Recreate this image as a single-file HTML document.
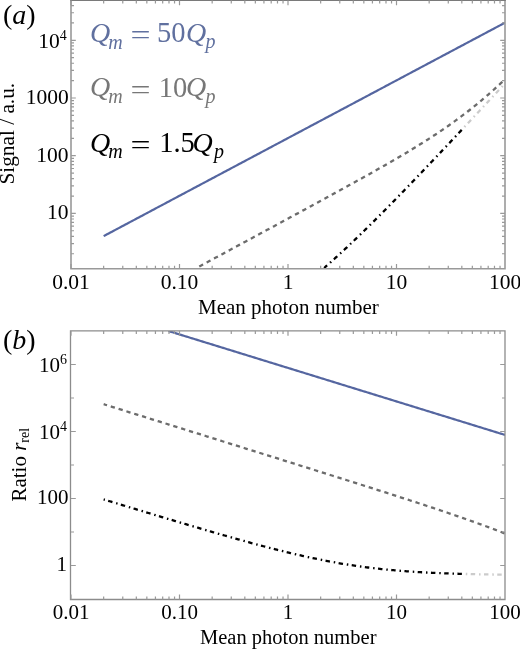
<!DOCTYPE html>
<html><head><meta charset="utf-8"><title>Signal and ratio plots</title>
<style>html,body{margin:0;padding:0;background:#fff;width:520px;height:649px;overflow:hidden}svg{display:block}</style>
</head><body>
<svg width="520" height="649" viewBox="0 0 520 649">
<defs>
<clipPath id="ca"><rect x="71" y="0" width="434" height="268"/></clipPath>
<clipPath id="cb"><rect x="71" y="331" width="434" height="268"/></clipPath>
</defs>
<rect width="520" height="649" fill="#fff"/>
<g clip-path="url(#ca)" fill="none" stroke-width="2.3">
<path d="M103.66,236.11 L105.33,235.22 L107.01,234.33 L108.68,233.44 L110.35,232.55 L112.02,231.67 L113.70,230.78 L115.37,229.89 L117.04,229.00 L118.71,228.11 L120.38,227.22 L122.06,226.33 L123.73,225.44 L125.40,224.55 L127.07,223.66 L128.75,222.77 L130.42,221.88 L132.09,220.99 L133.76,220.10 L135.43,219.22 L137.11,218.33 L138.78,217.44 L140.45,216.55 L142.12,215.66 L143.80,214.77 L145.47,213.88 L147.14,212.99 L148.81,212.10 L150.48,211.21 L152.16,210.32 L153.83,209.43 L155.50,208.54 L157.17,207.65 L158.85,206.77 L160.52,205.88 L162.19,204.99 L163.86,204.10 L165.53,203.21 L167.21,202.32 L168.88,201.43 L170.55,200.54 L172.22,199.65 L173.90,198.76 L175.57,197.87 L177.24,196.98 L178.91,196.09 L180.58,195.20 L182.26,194.31 L183.93,193.43 L185.60,192.54 L187.27,191.65 L188.95,190.76 L190.62,189.87 L192.29,188.98 L193.96,188.09 L195.64,187.20 L197.31,186.31 L198.98,185.42 L200.65,184.53 L202.32,183.64 L204.00,182.75 L205.67,181.86 L207.34,180.98 L209.01,180.09 L210.69,179.20 L212.36,178.31 L214.03,177.42 L215.70,176.53 L217.37,175.64 L219.05,174.75 L220.72,173.86 L222.39,172.97 L224.06,172.08 L225.74,171.19 L227.41,170.30 L229.08,169.41 L230.75,168.53 L232.42,167.64 L234.10,166.75 L235.77,165.86 L237.44,164.97 L239.11,164.08 L240.79,163.19 L242.46,162.30 L244.13,161.41 L245.80,160.52 L247.47,159.63 L249.15,158.74 L250.82,157.85 L252.49,156.96 L254.16,156.08 L255.84,155.19 L257.51,154.30 L259.18,153.41 L260.85,152.52 L262.52,151.63 L264.20,150.74 L265.87,149.85 L267.54,148.96 L269.21,148.07 L270.89,147.18 L272.56,146.29 L274.23,145.40 L275.90,144.51 L277.57,143.63 L279.25,142.74 L280.92,141.85 L282.59,140.96 L284.26,140.07 L285.94,139.18 L287.61,138.29 L289.28,137.40 L290.95,136.51 L292.63,135.62 L294.30,134.73 L295.97,133.84 L297.64,132.95 L299.31,132.06 L300.99,131.18 L302.66,130.29 L304.33,129.40 L306.00,128.51 L307.68,127.62 L309.35,126.73 L311.02,125.84 L312.69,124.95 L314.36,124.06 L316.04,123.17 L317.71,122.28 L319.38,121.39 L321.05,120.50 L322.73,119.61 L324.40,118.72 L326.07,117.84 L327.74,116.95 L329.41,116.06 L331.09,115.17 L332.76,114.28 L334.43,113.39 L336.10,112.50 L337.78,111.61 L339.45,110.72 L341.12,109.83 L342.79,108.94 L344.46,108.05 L346.14,107.16 L347.81,106.27 L349.48,105.39 L351.15,104.50 L352.83,103.61 L354.50,102.72 L356.17,101.83 L357.84,100.94 L359.51,100.05 L361.19,99.16 L362.86,98.27 L364.53,97.38 L366.20,96.49 L367.88,95.60 L369.55,94.71 L371.22,93.82 L372.89,92.94 L374.57,92.05 L376.24,91.16 L377.91,90.27 L379.58,89.38 L381.25,88.49 L382.93,87.60 L384.60,86.71 L386.27,85.82 L387.94,84.93 L389.62,84.04 L391.29,83.15 L392.96,82.26 L394.63,81.37 L396.30,80.49 L397.98,79.60 L399.65,78.71 L401.32,77.82 L402.99,76.93 L404.67,76.04 L406.34,75.15 L408.01,74.26 L409.68,73.37 L411.35,72.48 L413.03,71.59 L414.70,70.70 L416.37,69.81 L418.04,68.92 L419.72,68.04 L421.39,67.15 L423.06,66.26 L424.73,65.37 L426.40,64.48 L428.08,63.59 L429.75,62.70 L431.42,61.81 L433.09,60.92 L434.77,60.03 L436.44,59.14 L438.11,58.25 L439.78,57.36 L441.45,56.47 L443.13,55.59 L444.80,54.70 L446.47,53.81 L448.14,52.92 L449.82,52.03 L451.49,51.14 L453.16,50.25 L454.83,49.36 L456.50,48.47 L458.18,47.58 L459.85,46.69 L461.52,45.80 L463.19,44.91 L464.87,44.02 L466.54,43.13 L468.21,42.25 L469.88,41.36 L471.56,40.47 L473.23,39.58 L474.90,38.69 L476.57,37.80 L478.24,36.91 L479.92,36.02 L481.59,35.13 L483.26,34.24 L484.93,33.35 L486.61,32.46 L488.28,31.57 L489.95,30.68 L491.62,29.80 L493.29,28.91 L494.97,28.02 L496.64,27.13 L498.31,26.24 L499.98,25.35 L501.66,24.46 L503.33,23.57 L505.00,22.68" stroke="#5566a0" stroke-width="2.2"/>
<path d="M196.50,268.00 L197.78,267.31 L199.07,266.61 L200.35,265.92 L201.64,265.23 L202.93,264.54 L204.21,263.84 L205.50,263.15 L206.78,262.46 L208.07,261.76 L209.35,261.07 L210.64,260.38 L211.92,259.68 L213.21,258.99 L214.49,258.30 L215.78,257.61 L217.06,256.91 L218.35,256.22 L219.64,255.53 L220.92,254.83 L222.21,254.14 L223.49,253.45 L224.78,252.75 L226.06,252.06 L227.35,251.37 L228.63,250.67 L229.92,249.98 L231.20,249.29 L232.49,248.59 L233.78,247.90 L235.06,247.21 L236.35,246.51 L237.63,245.82 L238.92,245.13 L240.20,244.43 L241.49,243.74 L242.77,243.05 L244.06,242.35 L245.34,241.66 L246.63,240.97 L247.92,240.27 L249.20,239.58 L250.49,238.88 L251.77,238.19 L253.06,237.50 L254.34,236.80 L255.63,236.11 L256.91,235.42 L258.20,234.72 L259.48,234.03 L260.77,233.33 L262.05,232.64 L263.34,231.94 L264.63,231.25 L265.91,230.56 L267.20,229.86 L268.48,229.17 L269.77,228.47 L271.05,227.78 L272.34,227.08 L273.62,226.39 L274.91,225.69 L276.19,225.00 L277.48,224.30 L278.77,223.61 L280.05,222.91 L281.34,222.22 L282.62,221.52 L283.91,220.83 L285.19,220.13 L286.48,219.44 L287.76,218.74 L289.05,218.05 L290.33,217.35 L291.62,216.65 L292.90,215.96 L294.19,215.26 L295.48,214.57 L296.76,213.87 L298.05,213.17 L299.33,212.48 L300.62,211.78 L301.90,211.08 L303.19,210.38 L304.47,209.69 L305.76,208.99 L307.04,208.29 L308.33,207.59 L309.62,206.90 L310.90,206.20 L312.19,205.50 L313.47,204.80 L314.76,204.10 L316.04,203.40 L317.33,202.70 L318.61,202.00 L319.90,201.30 L321.18,200.60 L322.47,199.90 L323.76,199.20 L325.04,198.50 L326.33,197.80 L327.61,197.10 L328.90,196.40 L330.18,195.69 L331.47,194.99 L332.75,194.29 L334.04,193.58 L335.32,192.88 L336.61,192.18 L337.89,191.47 L339.18,190.77 L340.47,190.06 L341.75,189.36 L343.04,188.65 L344.32,187.94 L345.61,187.24 L346.89,186.53 L348.18,185.82 L349.46,185.11 L350.75,184.40 L352.03,183.69 L353.32,182.98 L354.61,182.27 L355.89,181.56 L357.18,180.84 L358.46,180.13 L359.75,179.41 L361.03,178.70 L362.32,177.98 L363.60,177.27 L364.89,176.55 L366.17,175.83 L367.46,175.11 L368.75,174.39 L370.03,173.67 L371.32,172.95 L372.60,172.22 L373.89,171.50 L375.17,170.77 L376.46,170.05 L377.74,169.32 L379.03,168.59 L380.31,167.86 L381.60,167.13 L382.88,166.39 L384.17,165.66 L385.46,164.92 L386.74,164.19 L388.03,163.45 L389.31,162.71 L390.60,161.96 L391.88,161.22 L393.17,160.47 L394.45,159.73 L395.74,158.98 L397.02,158.23 L398.31,157.47 L399.60,156.72 L400.88,155.96 L402.17,155.20 L403.45,154.44 L404.74,153.67 L406.02,152.91 L407.31,152.14 L408.59,151.37 L409.88,150.59 L411.16,149.81 L412.45,149.03 L413.73,148.25 L415.02,147.46 L416.31,146.68 L417.59,145.88 L418.88,145.09 L420.16,144.29 L421.45,143.49 L422.73,142.68 L424.02,141.87 L425.30,141.06 L426.59,140.24 L427.87,139.42 L429.16,138.60 L430.45,137.77 L431.73,136.94 L433.02,136.10 L434.30,135.26 L435.59,134.42 L436.87,133.56 L438.16,132.71 L439.44,131.85 L440.73,130.98 L442.01,130.11 L443.30,129.24 L444.59,128.36 L445.87,127.47 L447.16,126.58 L448.44,125.69 L449.73,124.78 L451.01,123.87 L452.30,122.96 L453.58,122.04 L454.87,121.11 L456.15,120.18 L457.44,119.24 L458.72,118.30 L460.01,117.34 L461.30,116.38 L462.58,115.42 L463.87,114.45 L465.15,113.47 L466.44,112.48 L467.72,111.49 L469.01,110.48 L470.29,109.48 L471.58,108.46 L472.86,107.44 L474.15,106.41 L475.44,105.37 L476.72,104.32 L478.01,103.27 L479.29,102.21 L480.58,101.14 L481.86,100.06 L483.15,98.98 L484.43,97.88 L485.72,96.78 L487.00,95.67 L488.29,94.55 L489.57,93.43 L490.86,92.30 L492.15,91.16 L493.43,90.01 L494.72,88.85 L496.00,87.68 L497.29,86.51 L498.57,85.33 L499.86,84.14 L501.14,82.94 L502.43,81.74 L503.71,80.52 L505.00,79.30" stroke="#6c6c6c" stroke-dasharray="4.4 3.97" stroke-dashoffset="5.23"/>
<path d="M324.19,268.00 L324.76,267.49 L325.34,266.99 L325.91,266.48 L326.48,265.97 L327.06,265.46 L327.63,264.95 L328.21,264.43 L328.78,263.92 L329.36,263.41 L329.93,262.89 L330.51,262.37 L331.08,261.86 L331.66,261.34 L332.23,260.82 L332.80,260.30 L333.38,259.78 L333.95,259.26 L334.53,258.74 L335.10,258.22 L335.68,257.69 L336.25,257.17 L336.83,256.64 L337.40,256.12 L337.97,255.59 L338.55,255.06 L339.12,254.53 L339.70,254.00 L340.27,253.47 L340.85,252.94 L341.42,252.41 L342.00,251.88 L342.57,251.34 L343.14,250.81 L343.72,250.27 L344.29,249.74 L344.87,249.20 L345.44,248.66 L346.02,248.12 L346.59,247.58 L347.17,247.04 L347.74,246.50 L348.31,245.96 L348.89,245.42 L349.46,244.88 L350.04,244.33 L350.61,243.79 L351.19,243.24 L351.76,242.70 L352.34,242.15 L352.91,241.60 L353.48,241.06 L354.06,240.51 L354.63,239.96 L355.21,239.41 L355.78,238.86 L356.36,238.31 L356.93,237.75 L357.51,237.20 L358.08,236.65 L358.65,236.09 L359.23,235.54 L359.80,234.98 L360.38,234.43 L360.95,233.87 L361.53,233.31 L362.10,232.75 L362.68,232.20 L363.25,231.64 L363.83,231.08 L364.40,230.52 L364.97,229.95 L365.55,229.39 L366.12,228.83 L366.70,228.27 L367.27,227.70 L367.85,227.14 L368.42,226.57 L369.00,226.01 L369.57,225.44 L370.14,224.88 L370.72,224.31 L371.29,223.74 L371.87,223.17 L372.44,222.60 L373.02,222.03 L373.59,221.46 L374.17,220.89 L374.74,220.32 L375.31,219.75 L375.89,219.18 L376.46,218.61 L377.04,218.03 L377.61,217.46 L378.19,216.89 L378.76,216.31 L379.34,215.74 L379.91,215.16 L380.48,214.58 L381.06,214.01 L381.63,213.43 L382.21,212.85 L382.78,212.27 L383.36,211.70 L383.93,211.12 L384.51,210.54 L385.08,209.96 L385.65,209.38 L386.23,208.80 L386.80,208.21 L387.38,207.63 L387.95,207.05 L388.53,206.47 L389.10,205.88 L389.68,205.30 L390.25,204.72 L390.82,204.13 L391.40,203.55 L391.97,202.96 L392.55,202.38 L393.12,201.79 L393.70,201.21 L394.27,200.62 L394.85,200.03 L395.42,199.44 L396.00,198.86 L396.57,198.27 L397.14,197.68 L397.72,197.09 L398.29,196.50 L398.87,195.91 L399.44,195.32 L400.02,194.73 L400.59,194.14 L401.17,193.55 L401.74,192.96 L402.31,192.37 L402.89,191.77 L403.46,191.18 L404.04,190.59 L404.61,189.99 L405.19,189.40 L405.76,188.81 L406.34,188.21 L406.91,187.62 L407.48,187.02 L408.06,186.43 L408.63,185.83 L409.21,185.24 L409.78,184.64 L410.36,184.05 L410.93,183.45 L411.51,182.85 L412.08,182.26 L412.65,181.66 L413.23,181.06 L413.80,180.46 L414.38,179.86 L414.95,179.27 L415.53,178.67 L416.10,178.07 L416.68,177.47 L417.25,176.87 L417.82,176.27 L418.40,175.67 L418.97,175.07 L419.55,174.47 L420.12,173.87 L420.70,173.27 L421.27,172.67 L421.85,172.06 L422.42,171.46 L422.99,170.86 L423.57,170.26 L424.14,169.66 L424.72,169.05 L425.29,168.45 L425.87,167.85 L426.44,167.24 L427.02,166.64 L427.59,166.04 L428.17,165.43 L428.74,164.83 L429.31,164.22 L429.89,163.62 L430.46,163.01 L431.04,162.41 L431.61,161.80 L432.19,161.20 L432.76,160.59 L433.34,159.99 L433.91,159.38 L434.48,158.77 L435.06,158.17 L435.63,157.56 L436.21,156.96 L436.78,156.35 L437.36,155.74 L437.93,155.13 L438.51,154.53 L439.08,153.92 L439.65,153.31 L440.23,152.70 L440.80,152.10 L441.38,151.49 L441.95,150.88 L442.53,150.27 L443.10,149.66 L443.68,149.05 L444.25,148.44 L444.82,147.83 L445.40,147.23 L445.97,146.62 L446.55,146.01 L447.12,145.40 L447.70,144.79 L448.27,144.18 L448.85,143.57 L449.42,142.96 L449.99,142.35 L450.57,141.74 L451.14,141.12 L451.72,140.51 L452.29,139.90 L452.87,139.29 L453.44,138.68 L454.02,138.07 L454.59,137.46 L455.16,136.85 L455.74,136.23 L456.31,135.62 L456.89,135.01 L457.46,134.40 L458.04,133.79 L458.61,133.17 L459.19,132.56 L459.76,131.95 L460.34,131.34 L460.91,130.72 L461.48,130.11 L462.06,129.50" stroke="#000" stroke-dasharray="4.6 3.95 1.5 3.6" stroke-dashoffset="0.68"/>
<path d="M462.06,129.50 L462.24,129.31 L462.42,129.12 L462.60,128.93 L462.77,128.73 L462.95,128.54 L463.13,128.35 L463.31,128.16 L463.49,127.97 L463.67,127.78 L463.85,127.59 L464.03,127.40 L464.21,127.21 L464.38,127.02 L464.56,126.82 L464.74,126.63 L464.92,126.44 L465.10,126.25 L465.28,126.06 L465.46,125.87 L465.64,125.68 L465.82,125.49 L465.99,125.30 L466.17,125.10 L466.35,124.91 L466.53,124.72 L466.71,124.53 L466.89,124.34 L467.07,124.15 L467.25,123.96 L467.43,123.77 L467.61,123.58 L467.78,123.38 L467.96,123.19 L468.14,123.00 L468.32,122.81 L468.50,122.62 L468.68,122.43 L468.86,122.24 L469.04,122.05 L469.22,121.85 L469.39,121.66 L469.57,121.47 L469.75,121.28 L469.93,121.09 L470.11,120.90 L470.29,120.71 L470.47,120.51 L470.65,120.32 L470.83,120.13 L471.00,119.94 L471.18,119.75 L471.36,119.56 L471.54,119.37 L471.72,119.17 L471.90,118.98 L472.08,118.79 L472.26,118.60 L472.44,118.41 L472.61,118.22 L472.79,118.03 L472.97,117.83 L473.15,117.64 L473.33,117.45 L473.51,117.26 L473.69,117.07 L473.87,116.88 L474.05,116.69 L474.23,116.49 L474.40,116.30 L474.58,116.11 L474.76,115.92 L474.94,115.73 L475.12,115.54 L475.30,115.34 L475.48,115.15 L475.66,114.96 L475.84,114.77 L476.01,114.58 L476.19,114.39 L476.37,114.20 L476.55,114.00 L476.73,113.81 L476.91,113.62 L477.09,113.43 L477.27,113.24 L477.45,113.05 L477.62,112.85 L477.80,112.66 L477.98,112.47 L478.16,112.28 L478.34,112.09 L478.52,111.89 L478.70,111.70 L478.88,111.51 L479.06,111.32 L479.24,111.13 L479.41,110.94 L479.59,110.74 L479.77,110.55 L479.95,110.36 L480.13,110.17 L480.31,109.98 L480.49,109.79 L480.67,109.59 L480.85,109.40 L481.02,109.21 L481.20,109.02 L481.38,108.83 L481.56,108.63 L481.74,108.44 L481.92,108.25 L482.10,108.06 L482.28,107.87 L482.46,107.68 L482.63,107.48 L482.81,107.29 L482.99,107.10 L483.17,106.91 L483.35,106.72 L483.53,106.52 L483.71,106.33 L483.89,106.14 L484.07,105.95 L484.24,105.76 L484.42,105.56 L484.60,105.37 L484.78,105.18 L484.96,104.99 L485.14,104.80 L485.32,104.60 L485.50,104.41 L485.68,104.22 L485.86,104.03 L486.03,103.84 L486.21,103.64 L486.39,103.45 L486.57,103.26 L486.75,103.07 L486.93,102.88 L487.11,102.68 L487.29,102.49 L487.47,102.30 L487.64,102.11 L487.82,101.92 L488.00,101.72 L488.18,101.53 L488.36,101.34 L488.54,101.15 L488.72,100.96 L488.90,100.76 L489.08,100.57 L489.25,100.38 L489.43,100.19 L489.61,100.00 L489.79,99.80 L489.97,99.61 L490.15,99.42 L490.33,99.23 L490.51,99.04 L490.69,98.84 L490.87,98.65 L491.04,98.46 L491.22,98.27 L491.40,98.07 L491.58,97.88 L491.76,97.69 L491.94,97.50 L492.12,97.31 L492.30,97.11 L492.48,96.92 L492.65,96.73 L492.83,96.54 L493.01,96.34 L493.19,96.15 L493.37,95.96 L493.55,95.77 L493.73,95.58 L493.91,95.38 L494.09,95.19 L494.26,95.00 L494.44,94.81 L494.62,94.61 L494.80,94.42 L494.98,94.23 L495.16,94.04 L495.34,93.85 L495.52,93.65 L495.70,93.46 L495.87,93.27 L496.05,93.08 L496.23,92.88 L496.41,92.69 L496.59,92.50 L496.77,92.31 L496.95,92.11 L497.13,91.92 L497.31,91.73 L497.49,91.54 L497.66,91.35 L497.84,91.15 L498.02,90.96 L498.20,90.77 L498.38,90.58 L498.56,90.38 L498.74,90.19 L498.92,90.00 L499.10,89.81 L499.27,89.61 L499.45,89.42 L499.63,89.23 L499.81,89.04 L499.99,88.84 L500.17,88.65 L500.35,88.46 L500.53,88.27 L500.71,88.07 L500.88,87.88 L501.06,87.69 L501.24,87.50 L501.42,87.30 L501.60,87.11 L501.78,86.92 L501.96,86.73 L502.14,86.54 L502.32,86.34 L502.50,86.15 L502.67,85.96 L502.85,85.77 L503.03,85.57 L503.21,85.38 L503.39,85.19 L503.57,85.00 L503.75,84.80 L503.93,84.61 L504.11,84.42 L504.28,84.23 L504.46,84.03 L504.64,83.84 L504.82,83.65 L505.00,83.46" stroke="#cbcbcb" stroke-dasharray="4.6 3.95 1.5 3.6" stroke-dashoffset="5.08"/>
</g>
<g clip-path="url(#cb)" fill="none" stroke-width="2.3">
<path d="M168.39,331.00 L169.80,331.43 L171.20,331.87 L172.60,332.30 L174.00,332.73 L175.41,333.17 L176.81,333.60 L178.21,334.03 L179.61,334.46 L181.02,334.90 L182.42,335.33 L183.82,335.76 L185.22,336.20 L186.63,336.63 L188.03,337.06 L189.43,337.50 L190.83,337.93 L192.24,338.36 L193.64,338.79 L195.04,339.23 L196.44,339.66 L197.85,340.09 L199.25,340.53 L200.65,340.96 L202.05,341.39 L203.46,341.83 L204.86,342.26 L206.26,342.69 L207.66,343.13 L209.07,343.56 L210.47,343.99 L211.87,344.42 L213.27,344.86 L214.68,345.29 L216.08,345.72 L217.48,346.16 L218.88,346.59 L220.29,347.02 L221.69,347.46 L223.09,347.89 L224.49,348.32 L225.90,348.75 L227.30,349.19 L228.70,349.62 L230.10,350.05 L231.51,350.49 L232.91,350.92 L234.31,351.35 L235.71,351.79 L237.12,352.22 L238.52,352.65 L239.92,353.09 L241.32,353.52 L242.73,353.95 L244.13,354.38 L245.53,354.82 L246.93,355.25 L248.34,355.68 L249.74,356.12 L251.14,356.55 L252.54,356.98 L253.95,357.42 L255.35,357.85 L256.75,358.28 L258.15,358.71 L259.56,359.15 L260.96,359.58 L262.36,360.01 L263.76,360.45 L265.17,360.88 L266.57,361.31 L267.97,361.75 L269.37,362.18 L270.78,362.61 L272.18,363.04 L273.58,363.48 L274.98,363.91 L276.39,364.34 L277.79,364.78 L279.19,365.21 L280.60,365.64 L282.00,366.08 L283.40,366.51 L284.80,366.94 L286.21,367.38 L287.61,367.81 L289.01,368.24 L290.41,368.67 L291.82,369.11 L293.22,369.54 L294.62,369.97 L296.02,370.41 L297.43,370.84 L298.83,371.27 L300.23,371.71 L301.63,372.14 L303.04,372.57 L304.44,373.00 L305.84,373.44 L307.24,373.87 L308.65,374.30 L310.05,374.74 L311.45,375.17 L312.85,375.60 L314.26,376.04 L315.66,376.47 L317.06,376.90 L318.46,377.34 L319.87,377.77 L321.27,378.20 L322.67,378.63 L324.07,379.07 L325.48,379.50 L326.88,379.93 L328.28,380.37 L329.68,380.80 L331.09,381.23 L332.49,381.67 L333.89,382.10 L335.29,382.53 L336.70,382.96 L338.10,383.40 L339.50,383.83 L340.90,384.26 L342.31,384.70 L343.71,385.13 L345.11,385.56 L346.51,386.00 L347.92,386.43 L349.32,386.86 L350.72,387.30 L352.12,387.73 L353.53,388.16 L354.93,388.59 L356.33,389.03 L357.73,389.46 L359.14,389.89 L360.54,390.33 L361.94,390.76 L363.34,391.19 L364.75,391.63 L366.15,392.06 L367.55,392.49 L368.95,392.92 L370.36,393.36 L371.76,393.79 L373.16,394.22 L374.56,394.66 L375.97,395.09 L377.37,395.52 L378.77,395.96 L380.17,396.39 L381.58,396.82 L382.98,397.26 L384.38,397.69 L385.78,398.12 L387.19,398.55 L388.59,398.99 L389.99,399.42 L391.39,399.85 L392.80,400.29 L394.20,400.72 L395.60,401.15 L397.01,401.59 L398.41,402.02 L399.81,402.45 L401.21,402.88 L402.62,403.32 L404.02,403.75 L405.42,404.18 L406.82,404.62 L408.23,405.05 L409.63,405.48 L411.03,405.92 L412.43,406.35 L413.84,406.78 L415.24,407.21 L416.64,407.65 L418.04,408.08 L419.45,408.51 L420.85,408.95 L422.25,409.38 L423.65,409.81 L425.06,410.25 L426.46,410.68 L427.86,411.11 L429.26,411.55 L430.67,411.98 L432.07,412.41 L433.47,412.84 L434.87,413.28 L436.28,413.71 L437.68,414.14 L439.08,414.58 L440.48,415.01 L441.89,415.44 L443.29,415.88 L444.69,416.31 L446.09,416.74 L447.50,417.17 L448.90,417.61 L450.30,418.04 L451.70,418.47 L453.11,418.91 L454.51,419.34 L455.91,419.77 L457.31,420.21 L458.72,420.64 L460.12,421.07 L461.52,421.51 L462.92,421.94 L464.33,422.37 L465.73,422.80 L467.13,423.24 L468.53,423.67 L469.94,424.10 L471.34,424.54 L472.74,424.97 L474.14,425.40 L475.55,425.84 L476.95,426.27 L478.35,426.70 L479.75,427.13 L481.16,427.57 L482.56,428.00 L483.96,428.43 L485.36,428.87 L486.77,429.30 L488.17,429.73 L489.57,430.17 L490.97,430.60 L492.38,431.03 L493.78,431.47 L495.18,431.90 L496.58,432.33 L497.99,432.76 L499.39,433.20 L500.79,433.63 L502.19,434.06 L503.60,434.50 L505.00,434.93" stroke="#5566a0" stroke-width="2.2"/>
<path d="M103.66,404.21 L105.33,404.73 L107.01,405.25 L108.68,405.77 L110.35,406.29 L112.02,406.81 L113.70,407.33 L115.37,407.86 L117.04,408.38 L118.71,408.90 L120.38,409.42 L122.06,409.94 L123.73,410.46 L125.40,410.98 L127.07,411.51 L128.75,412.03 L130.42,412.55 L132.09,413.07 L133.76,413.59 L135.43,414.11 L137.11,414.64 L138.78,415.16 L140.45,415.68 L142.12,416.20 L143.80,416.72 L145.47,417.24 L147.14,417.76 L148.81,418.29 L150.48,418.81 L152.16,419.33 L153.83,419.85 L155.50,420.37 L157.17,420.89 L158.85,421.42 L160.52,421.94 L162.19,422.46 L163.86,422.98 L165.53,423.50 L167.21,424.02 L168.88,424.54 L170.55,425.07 L172.22,425.59 L173.90,426.11 L175.57,426.63 L177.24,427.15 L178.91,427.67 L180.58,428.20 L182.26,428.72 L183.93,429.24 L185.60,429.76 L187.27,430.28 L188.95,430.80 L190.62,431.33 L192.29,431.85 L193.96,432.37 L195.64,432.89 L197.31,433.41 L198.98,433.93 L200.65,434.46 L202.32,434.98 L204.00,435.50 L205.67,436.02 L207.34,436.54 L209.01,437.06 L210.69,437.59 L212.36,438.11 L214.03,438.63 L215.70,439.15 L217.37,439.67 L219.05,440.19 L220.72,440.72 L222.39,441.24 L224.06,441.76 L225.74,442.28 L227.41,442.80 L229.08,443.33 L230.75,443.85 L232.42,444.37 L234.10,444.89 L235.77,445.41 L237.44,445.94 L239.11,446.46 L240.79,446.98 L242.46,447.50 L244.13,448.02 L245.80,448.55 L247.47,449.07 L249.15,449.59 L250.82,450.11 L252.49,450.63 L254.16,451.16 L255.84,451.68 L257.51,452.20 L259.18,452.72 L260.85,453.25 L262.52,453.77 L264.20,454.29 L265.87,454.81 L267.54,455.34 L269.21,455.86 L270.89,456.38 L272.56,456.90 L274.23,457.43 L275.90,457.95 L277.57,458.47 L279.25,458.99 L280.92,459.52 L282.59,460.04 L284.26,460.56 L285.94,461.09 L287.61,461.61 L289.28,462.13 L290.95,462.66 L292.63,463.18 L294.30,463.70 L295.97,464.23 L297.64,464.75 L299.31,465.27 L300.99,465.80 L302.66,466.32 L304.33,466.84 L306.00,467.37 L307.68,467.89 L309.35,468.42 L311.02,468.94 L312.69,469.46 L314.36,469.99 L316.04,470.51 L317.71,471.04 L319.38,471.56 L321.05,472.09 L322.73,472.61 L324.40,473.14 L326.07,473.66 L327.74,474.19 L329.41,474.71 L331.09,475.24 L332.76,475.76 L334.43,476.29 L336.10,476.82 L337.78,477.34 L339.45,477.87 L341.12,478.39 L342.79,478.92 L344.46,479.45 L346.14,479.98 L347.81,480.50 L349.48,481.03 L351.15,481.56 L352.83,482.09 L354.50,482.61 L356.17,483.14 L357.84,483.67 L359.51,484.20 L361.19,484.73 L362.86,485.26 L364.53,485.79 L366.20,486.32 L367.88,486.85 L369.55,487.38 L371.22,487.91 L372.89,488.44 L374.57,488.97 L376.24,489.51 L377.91,490.04 L379.58,490.57 L381.25,491.10 L382.93,491.64 L384.60,492.17 L386.27,492.71 L387.94,493.24 L389.62,493.78 L391.29,494.31 L392.96,494.85 L394.63,495.39 L396.30,495.92 L397.98,496.46 L399.65,497.00 L401.32,497.54 L402.99,498.08 L404.67,498.62 L406.34,499.16 L408.01,499.70 L409.68,500.25 L411.35,500.79 L413.03,501.33 L414.70,501.88 L416.37,502.42 L418.04,502.97 L419.72,503.52 L421.39,504.07 L423.06,504.62 L424.73,505.17 L426.40,505.72 L428.08,506.27 L429.75,506.82 L431.42,507.38 L433.09,507.93 L434.77,508.49 L436.44,509.05 L438.11,509.61 L439.78,510.17 L441.45,510.73 L443.13,511.29 L444.80,511.85 L446.47,512.42 L448.14,512.99 L449.82,513.56 L451.49,514.13 L453.16,514.70 L454.83,515.27 L456.50,515.85 L458.18,516.42 L459.85,517.00 L461.52,517.58 L463.19,518.16 L464.87,518.75 L466.54,519.33 L468.21,519.92 L469.88,520.51 L471.56,521.10 L473.23,521.70 L474.90,522.29 L476.57,522.89 L478.24,523.50 L479.92,524.10 L481.59,524.71 L483.26,525.31 L484.93,525.93 L486.61,526.54 L488.28,527.16 L489.95,527.78 L491.62,528.40 L493.29,529.03 L494.97,529.65 L496.64,530.29 L498.31,530.92 L499.98,531.56 L501.66,532.20 L503.33,532.84 L505.00,533.49" stroke="#6c6c6c" stroke-dasharray="4.3 3.89" stroke-dashoffset="0.75"/>
<path d="M103.66,499.41 L105.16,499.87 L106.65,500.32 L108.14,500.77 L109.64,501.23 L111.13,501.68 L112.62,502.14 L114.11,502.59 L115.61,503.04 L117.10,503.50 L118.59,503.95 L120.09,504.40 L121.58,504.86 L123.07,505.31 L124.57,505.76 L126.06,506.22 L127.55,506.67 L129.05,507.12 L130.54,507.57 L132.03,508.03 L133.53,508.48 L135.02,508.93 L136.51,509.38 L138.01,509.83 L139.50,510.29 L140.99,510.74 L142.49,511.19 L143.98,511.64 L145.47,512.09 L146.97,512.54 L148.46,512.99 L149.95,513.44 L151.45,513.89 L152.94,514.34 L154.43,514.79 L155.93,515.24 L157.42,515.69 L158.91,516.14 L160.41,516.59 L161.90,517.04 L163.39,517.49 L164.89,517.93 L166.38,518.38 L167.87,518.83 L169.37,519.28 L170.86,519.72 L172.35,520.17 L173.85,520.62 L175.34,521.06 L176.83,521.51 L178.33,521.95 L179.82,522.40 L181.31,522.84 L182.81,523.29 L184.30,523.73 L185.79,524.17 L187.29,524.62 L188.78,525.06 L190.27,525.50 L191.77,525.94 L193.26,526.38 L194.75,526.82 L196.25,527.26 L197.74,527.70 L199.23,528.14 L200.73,528.58 L202.22,529.02 L203.71,529.46 L205.21,529.89 L206.70,530.33 L208.19,530.77 L209.69,531.20 L211.18,531.63 L212.67,532.07 L214.17,532.50 L215.66,532.93 L217.15,533.36 L218.65,533.80 L220.14,534.23 L221.63,534.65 L223.13,535.08 L224.62,535.51 L226.11,535.94 L227.61,536.36 L229.10,536.79 L230.59,537.21 L232.09,537.63 L233.58,538.06 L235.07,538.48 L236.57,538.90 L238.06,539.32 L239.55,539.73 L241.05,540.15 L242.54,540.56 L244.03,540.98 L245.53,541.39 L247.02,541.80 L248.51,542.21 L250.01,542.62 L251.50,543.03 L252.99,543.44 L254.49,543.84 L255.98,544.24 L257.47,544.65 L258.97,545.05 L260.46,545.44 L261.95,545.84 L263.45,546.24 L264.94,546.63 L266.43,547.02 L267.93,547.41 L269.42,547.80 L270.91,548.19 L272.41,548.57 L273.90,548.96 L275.39,549.34 L276.89,549.71 L278.38,550.09 L279.87,550.47 L281.37,550.84 L282.86,551.21 L284.35,551.58 L285.85,551.94 L287.34,552.31 L288.83,552.67 L290.33,553.03 L291.82,553.38 L293.31,553.74 L294.81,554.09 L296.30,554.44 L297.79,554.78 L299.29,555.13 L300.78,555.47 L302.27,555.81 L303.77,556.14 L305.26,556.47 L306.75,556.80 L308.25,557.13 L309.74,557.45 L311.23,557.77 L312.73,558.09 L314.22,558.41 L315.71,558.72 L317.21,559.03 L318.70,559.33 L320.19,559.63 L321.69,559.93 L323.18,560.23 L324.67,560.52 L326.17,560.81 L327.66,561.10 L329.15,561.38 L330.65,561.66 L332.14,561.93 L333.63,562.20 L335.13,562.47 L336.62,562.74 L338.11,563.00 L339.61,563.26 L341.10,563.51 L342.59,563.76 L344.09,564.01 L345.58,564.26 L347.07,564.50 L348.57,564.73 L350.06,564.97 L351.55,565.20 L353.05,565.42 L354.54,565.64 L356.03,565.86 L357.53,566.08 L359.02,566.29 L360.51,566.50 L362.01,566.70 L363.50,566.90 L364.99,567.10 L366.49,567.29 L367.98,567.49 L369.47,567.67 L370.97,567.86 L372.46,568.04 L373.95,568.21 L375.45,568.39 L376.94,568.56 L378.43,568.72 L379.93,568.89 L381.42,569.05 L382.91,569.20 L384.41,569.36 L385.90,569.51 L387.39,569.65 L388.89,569.80 L390.38,569.94 L391.87,570.08 L393.37,570.21 L394.86,570.34 L396.35,570.47 L397.85,570.60 L399.34,570.72 L400.83,570.84 L402.33,570.96 L403.82,571.08 L405.31,571.19 L406.81,571.30 L408.30,571.41 L409.79,571.51 L411.29,571.61 L412.78,571.71 L414.27,571.81 L415.77,571.90 L417.26,572.00 L418.75,572.09 L420.25,572.17 L421.74,572.26 L423.23,572.34 L424.73,572.43 L426.22,572.50 L427.71,572.58 L429.21,572.66 L430.70,572.73 L432.19,572.80 L433.69,572.87 L435.18,572.94 L436.67,573.01 L438.17,573.07 L439.66,573.13 L441.15,573.19 L442.65,573.25 L444.14,573.31 L445.63,573.37 L447.13,573.42 L448.62,573.47 L450.11,573.53 L451.61,573.58 L453.10,573.62 L454.59,573.67 L456.09,573.72 L457.58,573.76 L459.07,573.81 L460.57,573.85 L462.06,573.89" stroke="#000" stroke-dasharray="1.5 3.45 4.45 3.87" stroke-dashoffset="0.24"/>
<path d="M462.06,573.89 L462.24,573.89 L462.42,573.90 L462.60,573.90 L462.77,573.91 L462.95,573.91 L463.13,573.92 L463.31,573.92 L463.49,573.93 L463.67,573.93 L463.85,573.94 L464.03,573.94 L464.21,573.95 L464.38,573.95 L464.56,573.96 L464.74,573.96 L464.92,573.97 L465.10,573.97 L465.28,573.97 L465.46,573.98 L465.64,573.98 L465.82,573.99 L465.99,573.99 L466.17,574.00 L466.35,574.00 L466.53,574.01 L466.71,574.01 L466.89,574.01 L467.07,574.02 L467.25,574.02 L467.43,574.03 L467.61,574.03 L467.78,574.04 L467.96,574.04 L468.14,574.05 L468.32,574.05 L468.50,574.05 L468.68,574.06 L468.86,574.06 L469.04,574.07 L469.22,574.07 L469.39,574.08 L469.57,574.08 L469.75,574.08 L469.93,574.09 L470.11,574.09 L470.29,574.10 L470.47,574.10 L470.65,574.10 L470.83,574.11 L471.00,574.11 L471.18,574.12 L471.36,574.12 L471.54,574.12 L471.72,574.13 L471.90,574.13 L472.08,574.14 L472.26,574.14 L472.44,574.14 L472.61,574.15 L472.79,574.15 L472.97,574.16 L473.15,574.16 L473.33,574.16 L473.51,574.17 L473.69,574.17 L473.87,574.18 L474.05,574.18 L474.23,574.18 L474.40,574.19 L474.58,574.19 L474.76,574.20 L474.94,574.20 L475.12,574.20 L475.30,574.21 L475.48,574.21 L475.66,574.21 L475.84,574.22 L476.01,574.22 L476.19,574.23 L476.37,574.23 L476.55,574.23 L476.73,574.24 L476.91,574.24 L477.09,574.24 L477.27,574.25 L477.45,574.25 L477.62,574.25 L477.80,574.26 L477.98,574.26 L478.16,574.27 L478.34,574.27 L478.52,574.27 L478.70,574.28 L478.88,574.28 L479.06,574.28 L479.24,574.29 L479.41,574.29 L479.59,574.29 L479.77,574.30 L479.95,574.30 L480.13,574.30 L480.31,574.31 L480.49,574.31 L480.67,574.31 L480.85,574.32 L481.02,574.32 L481.20,574.32 L481.38,574.33 L481.56,574.33 L481.74,574.33 L481.92,574.34 L482.10,574.34 L482.28,574.34 L482.46,574.35 L482.63,574.35 L482.81,574.35 L482.99,574.36 L483.17,574.36 L483.35,574.36 L483.53,574.37 L483.71,574.37 L483.89,574.37 L484.07,574.38 L484.24,574.38 L484.42,574.38 L484.60,574.39 L484.78,574.39 L484.96,574.39 L485.14,574.39 L485.32,574.40 L485.50,574.40 L485.68,574.40 L485.86,574.41 L486.03,574.41 L486.21,574.41 L486.39,574.42 L486.57,574.42 L486.75,574.42 L486.93,574.43 L487.11,574.43 L487.29,574.43 L487.47,574.43 L487.64,574.44 L487.82,574.44 L488.00,574.44 L488.18,574.45 L488.36,574.45 L488.54,574.45 L488.72,574.45 L488.90,574.46 L489.08,574.46 L489.25,574.46 L489.43,574.47 L489.61,574.47 L489.79,574.47 L489.97,574.47 L490.15,574.48 L490.33,574.48 L490.51,574.48 L490.69,574.49 L490.87,574.49 L491.04,574.49 L491.22,574.49 L491.40,574.50 L491.58,574.50 L491.76,574.50 L491.94,574.50 L492.12,574.51 L492.30,574.51 L492.48,574.51 L492.65,574.52 L492.83,574.52 L493.01,574.52 L493.19,574.52 L493.37,574.53 L493.55,574.53 L493.73,574.53 L493.91,574.53 L494.09,574.54 L494.26,574.54 L494.44,574.54 L494.62,574.54 L494.80,574.55 L494.98,574.55 L495.16,574.55 L495.34,574.55 L495.52,574.56 L495.70,574.56 L495.87,574.56 L496.05,574.56 L496.23,574.57 L496.41,574.57 L496.59,574.57 L496.77,574.57 L496.95,574.58 L497.13,574.58 L497.31,574.58 L497.49,574.58 L497.66,574.59 L497.84,574.59 L498.02,574.59 L498.20,574.59 L498.38,574.60 L498.56,574.60 L498.74,574.60 L498.92,574.60 L499.10,574.61 L499.27,574.61 L499.45,574.61 L499.63,574.61 L499.81,574.62 L499.99,574.62 L500.17,574.62 L500.35,574.62 L500.53,574.62 L500.71,574.63 L500.88,574.63 L501.06,574.63 L501.24,574.63 L501.42,574.64 L501.60,574.64 L501.78,574.64 L501.96,574.64 L502.14,574.64 L502.32,574.65 L502.50,574.65 L502.67,574.65 L502.85,574.65 L503.03,574.66 L503.21,574.66 L503.39,574.66 L503.57,574.66 L503.75,574.66 L503.93,574.67 L504.11,574.67 L504.28,574.67 L504.46,574.67 L504.64,574.67 L504.82,574.68 L505.00,574.68" stroke="#cbcbcb" stroke-dasharray="1.5 3.45 4.45 3.87" stroke-dashoffset="9.55"/>
</g>
<g fill="none" stroke="#999" stroke-width="1.6">
<path d="M71,0 V268.8 H505 V0"/>
</g>
<path d="M70.5,330.8 V599.5 H505 V330.8 Z" fill="none" stroke="#8c8c8c" stroke-width="1.3"/>
<path d="M70.2,0.55 H505.8" stroke="#7a7a7a" stroke-width="1.1"/>
<g fill="none" stroke="#999" stroke-width="1.2">
<path d="M71.00,268.8 v-4.8 M71.00,0.5 v4.8 M103.66,268.8 v-3.0 M103.66,0.5 v3.0 M122.77,268.8 v-3.0 M122.77,0.5 v3.0 M136.32,268.8 v-3.0 M136.32,0.5 v3.0 M146.84,268.8 v-3.0 M146.84,0.5 v3.0 M155.43,268.8 v-3.0 M155.43,0.5 v3.0 M162.69,268.8 v-3.0 M162.69,0.5 v3.0 M168.99,268.8 v-3.0 M168.99,0.5 v3.0 M174.54,268.8 v-3.0 M174.54,0.5 v3.0 M179.50,268.8 v-4.8 M179.50,0.5 v4.8 M212.16,268.8 v-3.0 M212.16,0.5 v3.0 M231.27,268.8 v-3.0 M231.27,0.5 v3.0 M244.82,268.8 v-3.0 M244.82,0.5 v3.0 M255.34,268.8 v-3.0 M255.34,0.5 v3.0 M263.93,268.8 v-3.0 M263.93,0.5 v3.0 M271.19,268.8 v-3.0 M271.19,0.5 v3.0 M277.49,268.8 v-3.0 M277.49,0.5 v3.0 M283.04,268.8 v-3.0 M283.04,0.5 v3.0 M288.00,268.8 v-4.8 M288.00,0.5 v4.8 M320.66,268.8 v-3.0 M320.66,0.5 v3.0 M339.77,268.8 v-3.0 M339.77,0.5 v3.0 M353.32,268.8 v-3.0 M353.32,0.5 v3.0 M363.84,268.8 v-3.0 M363.84,0.5 v3.0 M372.43,268.8 v-3.0 M372.43,0.5 v3.0 M379.69,268.8 v-3.0 M379.69,0.5 v3.0 M385.99,268.8 v-3.0 M385.99,0.5 v3.0 M391.54,268.8 v-3.0 M391.54,0.5 v3.0 M396.50,268.8 v-4.8 M396.50,0.5 v4.8 M429.16,268.8 v-3.0 M429.16,0.5 v3.0 M448.27,268.8 v-3.0 M448.27,0.5 v3.0 M461.82,268.8 v-3.0 M461.82,0.5 v3.0 M472.34,268.8 v-3.0 M472.34,0.5 v3.0 M480.93,268.8 v-3.0 M480.93,0.5 v3.0 M488.19,268.8 v-3.0 M488.19,0.5 v3.0 M494.49,268.8 v-3.0 M494.49,0.5 v3.0 M500.04,268.8 v-3.0 M500.04,0.5 v3.0"/>
<path d="M71,253.73 h3.0 M505,253.73 h-3.0 M71,243.57 h3.0 M505,243.57 h-3.0 M71,236.36 h3.0 M505,236.36 h-3.0 M71,230.77 h3.0 M505,230.77 h-3.0 M71,226.20 h3.0 M505,226.20 h-3.0 M71,222.34 h3.0 M505,222.34 h-3.0 M71,218.99 h3.0 M505,218.99 h-3.0 M71,216.04 h3.0 M505,216.04 h-3.0 M71,213.40 h4.8 M505,213.40 h-4.8 M71,196.03 h3.0 M505,196.03 h-3.0 M71,185.87 h3.0 M505,185.87 h-3.0 M71,178.66 h3.0 M505,178.66 h-3.0 M71,173.07 h3.0 M505,173.07 h-3.0 M71,168.50 h3.0 M505,168.50 h-3.0 M71,164.64 h3.0 M505,164.64 h-3.0 M71,161.29 h3.0 M505,161.29 h-3.0 M71,158.34 h3.0 M505,158.34 h-3.0 M71,155.70 h4.8 M505,155.70 h-4.8 M71,138.33 h3.0 M505,138.33 h-3.0 M71,128.17 h3.0 M505,128.17 h-3.0 M71,120.96 h3.0 M505,120.96 h-3.0 M71,115.37 h3.0 M505,115.37 h-3.0 M71,110.80 h3.0 M505,110.80 h-3.0 M71,106.94 h3.0 M505,106.94 h-3.0 M71,103.59 h3.0 M505,103.59 h-3.0 M71,100.64 h3.0 M505,100.64 h-3.0 M71,98.00 h4.8 M505,98.00 h-4.8 M71,80.63 h3.0 M505,80.63 h-3.0 M71,70.47 h3.0 M505,70.47 h-3.0 M71,63.26 h3.0 M505,63.26 h-3.0 M71,57.67 h3.0 M505,57.67 h-3.0 M71,53.10 h3.0 M505,53.10 h-3.0 M71,49.24 h3.0 M505,49.24 h-3.0 M71,45.89 h3.0 M505,45.89 h-3.0 M71,42.94 h3.0 M505,42.94 h-3.0 M71,40.30 h4.8 M505,40.30 h-4.8 M71,22.93 h3.0 M505,22.93 h-3.0 M71,12.77 h3.0 M505,12.77 h-3.0 M71,5.56 h3.0 M505,5.56 h-3.0"/>
<path d="M71.00,599.4 v-4.8 M71.00,330.9 v4.8 M103.66,599.4 v-3.0 M103.66,330.9 v3.0 M122.77,599.4 v-3.0 M122.77,330.9 v3.0 M136.32,599.4 v-3.0 M136.32,330.9 v3.0 M146.84,599.4 v-3.0 M146.84,330.9 v3.0 M155.43,599.4 v-3.0 M155.43,330.9 v3.0 M162.69,599.4 v-3.0 M162.69,330.9 v3.0 M168.99,599.4 v-3.0 M168.99,330.9 v3.0 M174.54,599.4 v-3.0 M174.54,330.9 v3.0 M179.50,599.4 v-4.8 M179.50,330.9 v4.8 M212.16,599.4 v-3.0 M212.16,330.9 v3.0 M231.27,599.4 v-3.0 M231.27,330.9 v3.0 M244.82,599.4 v-3.0 M244.82,330.9 v3.0 M255.34,599.4 v-3.0 M255.34,330.9 v3.0 M263.93,599.4 v-3.0 M263.93,330.9 v3.0 M271.19,599.4 v-3.0 M271.19,330.9 v3.0 M277.49,599.4 v-3.0 M277.49,330.9 v3.0 M283.04,599.4 v-3.0 M283.04,330.9 v3.0 M288.00,599.4 v-4.8 M288.00,330.9 v4.8 M320.66,599.4 v-3.0 M320.66,330.9 v3.0 M339.77,599.4 v-3.0 M339.77,330.9 v3.0 M353.32,599.4 v-3.0 M353.32,330.9 v3.0 M363.84,599.4 v-3.0 M363.84,330.9 v3.0 M372.43,599.4 v-3.0 M372.43,330.9 v3.0 M379.69,599.4 v-3.0 M379.69,330.9 v3.0 M385.99,599.4 v-3.0 M385.99,330.9 v3.0 M391.54,599.4 v-3.0 M391.54,330.9 v3.0 M396.50,599.4 v-4.8 M396.50,330.9 v4.8 M429.16,599.4 v-3.0 M429.16,330.9 v3.0 M448.27,599.4 v-3.0 M448.27,330.9 v3.0 M461.82,599.4 v-3.0 M461.82,330.9 v3.0 M472.34,599.4 v-3.0 M472.34,330.9 v3.0 M480.93,599.4 v-3.0 M480.93,330.9 v3.0 M488.19,599.4 v-3.0 M488.19,330.9 v3.0 M494.49,599.4 v-3.0 M494.49,330.9 v3.0 M500.04,599.4 v-3.0 M500.04,330.9 v3.0"/>
<path d="M71,565.50 h4.8 M505,565.50 h-4.8 M71,532.00 h3.0 M505,532.00 h-3.0 M71,498.50 h4.8 M505,498.50 h-4.8 M71,465.00 h3.0 M505,465.00 h-3.0 M71,431.50 h4.8 M505,431.50 h-4.8 M71,398.00 h3.0 M505,398.00 h-3.0 M71,364.50 h4.8 M505,364.50 h-4.8"/>
</g>
<g style="font-family:'Liberation Serif','Times New Roman',serif" fill="#000">
<text x="3" y="24" font-size="28">(<tspan font-style="italic">a</tspan>)</text>
<text x="3" y="349" font-size="28">(<tspan font-style="italic">b</tspan>)</text>
<g font-size="21.5" text-anchor="middle">
<text x="71.00" y="289">0.01</text>
<text x="179.50" y="289">0.10</text>
<text x="288.00" y="289">1</text>
<text x="396.50" y="289">10</text>
<text x="505.00" y="289">100</text>
</g>
<g font-size="21" text-anchor="middle">
<text x="71.00" y="619">0.01</text>
<text x="179.50" y="619">0.10</text>
<text x="288.00" y="619">1</text>
<text x="396.50" y="619">10</text>
<text x="505.00" y="619">100</text>
</g>
<g font-size="21.5" text-anchor="end">
<text x="66.7" y="48.10">10<tspan font-size="14" dy="-8">4</tspan></text>
<text x="68.8" y="104.30">1000</text>
<text x="68.6" y="161.50">100</text>
<text x="68.4" y="219.10">10</text>
</g>
<g font-size="21" text-anchor="end">
<text x="67" y="371.60">10<tspan font-size="14" dy="-8">6</tspan></text>
<text x="67" y="438.60">10<tspan font-size="14" dy="-8">4</tspan></text>
<text x="68.6" y="504.20">100</text>
<text x="67" y="571.20">1</text>
</g>
<text x="198" y="314" font-size="21">Mean photon number</text>
<text x="200" y="644" font-size="20.5">Mean photon number</text>
<text transform="translate(14.3,184.6) rotate(-90)" font-size="21.3">Signal / a.u.</text>
<text transform="translate(25.6,501.6) rotate(-90)" font-size="21">Ratio <tspan font-style="italic">r</tspan><tspan font-size="14" dy="3">rel</tspan></text>
</g>
<g style="font-family:'Liberation Serif','Times New Roman',serif">
<g fill="#60709f">
<text x="90" y="41.8" font-size="28" font-style="italic">Q</text>
<text x="108.2" y="48.6" font-size="20" font-style="italic">m</text>
<text transform="translate(130.6,44.4) scale(1.27,1)" font-size="28">=</text>
<text x="157" y="42.4" font-size="28.5">50</text>
<text x="186" y="41.8" font-size="28" font-style="italic">Q</text>
<text x="205.5" y="48.3" font-size="20" font-style="italic">p</text>
</g>
<g fill="#777">
<text x="90" y="96.2" font-size="28" font-style="italic">Q</text>
<text x="108.2" y="103.0" font-size="20" font-style="italic">m</text>
<text transform="translate(130.6,98.8) scale(1.27,1)" font-size="28">=</text>
<text x="158.8" y="96.8" font-size="28.5">10</text>
<text x="186" y="96.2" font-size="28" font-style="italic">Q</text>
<text x="205.5" y="102.7" font-size="20" font-style="italic">p</text>
</g>
<g fill="#000">
<text x="90" y="151.6" font-size="28" font-style="italic">Q</text>
<text x="108.2" y="158.4" font-size="20" font-style="italic">m</text>
<text transform="translate(130.6,154.2) scale(1.27,1)" font-size="28">=</text>
<text x="159.2" y="152.2" font-size="28.5">1.5</text>
<text x="192.5" y="151.6" font-size="28" font-style="italic">Q</text>
<text x="214" y="158.1" font-size="20" font-style="italic">p</text>
</g>
</g>
</svg>
</body></html>
